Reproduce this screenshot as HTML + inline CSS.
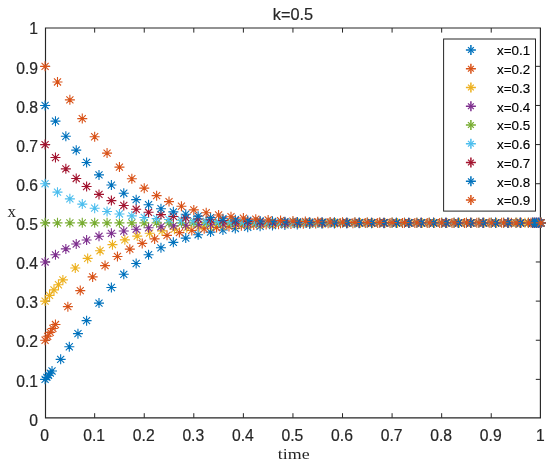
<!DOCTYPE html>
<html><head><meta charset="utf-8"><style>
html,body{margin:0;padding:0;background:#fff;}
body{width:550px;height:468px;overflow:hidden;}
svg{display:block;}
.tl{font-family:"Liberation Sans",Arial,sans-serif;font-size:15.7px;fill:#262626;stroke:#262626;stroke-width:0.2px;}
.lg{font-family:"Liberation Sans",Arial,sans-serif;font-size:13.4px;fill:#000;stroke:#000;stroke-width:0.15px;}
.lab{font-family:"Liberation Serif","Times New Roman",serif;font-size:17px;fill:#262626;}
</style></head><body>
<svg width="550" height="468" viewBox="0 0 550 468">
<rect width="550" height="468" fill="#fff"/>
<path d="M45.5 28.0H540.4V417.8H45.5Z" fill="none" stroke="#262626" stroke-width="1.15"/>
<path d="M94.67 417.80v-4.6M94.67 28.00v4.6M45.50 379.37h4.6M540.40 379.37h-4.6M144.24 417.80v-4.6M144.24 28.00v4.6M45.50 340.24h4.6M540.40 340.24h-4.6M193.81 417.80v-4.6M193.81 28.00v4.6M45.50 301.11h4.6M540.40 301.11h-4.6M243.38 417.80v-4.6M243.38 28.00v4.6M45.50 261.98h4.6M540.40 261.98h-4.6M292.95 417.80v-4.6M292.95 28.00v4.6M45.50 222.85h4.6M540.40 222.85h-4.6M342.52 417.80v-4.6M342.52 28.00v4.6M45.50 183.72h4.6M540.40 183.72h-4.6M392.09 417.80v-4.6M392.09 28.00v4.6M45.50 144.59h4.6M540.40 144.59h-4.6M441.66 417.80v-4.6M441.66 28.00v4.6M45.50 105.46h4.6M540.40 105.46h-4.6M491.23 417.80v-4.6M491.23 28.00v4.6M45.50 66.33h4.6M540.40 66.33h-4.6" stroke="#262626" stroke-width="1" fill="none"/>
<g fill="none" stroke-width="1.1" stroke-linecap="butt">
<path stroke="#0072BD" d="M40.10 379.37h10.00M45.10 374.37v10.00M41.56 375.83l7.07 7.07M41.56 382.91l7.07 -7.07M41.83 377.37h10.00M46.83 372.37v10.00M43.29 373.84l7.07 7.07M43.29 380.91l7.07 -7.07M43.56 375.31h10.00M48.56 370.31v10.00M45.02 371.78l7.07 7.07M45.02 378.85l7.07 -7.07M45.29 373.20h10.00M50.29 368.20v10.00M46.75 369.66l7.07 7.07M46.75 376.73l7.07 -7.07M47.02 371.02h10.00M52.02 366.02v10.00M48.48 367.48l7.07 7.07M48.48 374.55l7.07 -7.07M55.66 359.36h10.00M60.66 354.36v10.00M57.13 355.82l7.07 7.07M57.13 362.89l7.07 -7.07M64.31 346.74h10.00M69.31 341.74v10.00M65.78 343.20l7.07 7.07M65.78 350.27l7.07 -7.07M72.96 333.66h10.00M77.96 328.66v10.00M74.42 330.12l7.07 7.07M74.42 337.19l7.07 -7.07M81.60 320.65h10.00M86.60 315.65v10.00M83.07 317.11l7.07 7.07M83.07 324.18l7.07 -7.07M94.00 303.08h10.00M99.00 298.08v10.00M95.46 299.54l7.07 7.07M95.46 306.61l7.07 -7.07M106.39 287.50h10.00M111.39 282.50v10.00M107.85 283.96l7.07 7.07M107.85 291.03l7.07 -7.07M118.78 274.30h10.00M123.78 269.30v10.00M120.25 270.76l7.07 7.07M120.25 277.84l7.07 -7.07M131.17 263.48h10.00M136.17 258.48v10.00M132.64 259.95l7.07 7.07M132.64 267.02l7.07 -7.07M143.57 254.75h10.00M148.57 249.75v10.00M145.03 251.22l7.07 7.07M145.03 258.29l7.07 -7.07M155.96 247.81h10.00M160.96 242.81v10.00M157.42 244.27l7.07 7.07M157.42 251.34l7.07 -7.07M168.35 242.36h10.00M173.35 237.36v10.00M169.82 238.82l7.07 7.07M169.82 245.89l7.07 -7.07M180.74 238.09h10.00M185.74 233.09v10.00M182.21 234.55l7.07 7.07M182.21 241.62l7.07 -7.07M193.14 234.72h10.00M198.14 229.72v10.00M194.60 231.19l7.07 7.07M194.60 238.26l7.07 -7.07M205.53 232.10h10.00M210.53 227.10v10.00M206.99 228.56l7.07 7.07M206.99 235.63l7.07 -7.07M217.92 230.06h10.00M222.92 225.06v10.00M219.39 226.53l7.07 7.07M219.39 233.60l7.07 -7.07M230.31 228.48h10.00M235.31 223.48v10.00M231.78 224.94l7.07 7.07M231.78 232.01l7.07 -7.07M242.71 227.23h10.00M247.71 222.23v10.00M244.17 223.69l7.07 7.07M244.17 230.76l7.07 -7.07M255.10 226.26h10.00M260.10 221.26v10.00M256.56 222.72l7.07 7.07M256.56 229.79l7.07 -7.07M267.49 225.51h10.00M272.49 220.51v10.00M268.96 221.97l7.07 7.07M268.96 229.04l7.07 -7.07M279.88 224.92h10.00M284.88 219.92v10.00M281.35 221.39l7.07 7.07M281.35 228.46l7.07 -7.07M292.28 224.46h10.00M297.28 219.46v10.00M293.74 220.93l7.07 7.07M293.74 228.00l7.07 -7.07M304.67 224.11h10.00M309.67 219.11v10.00M306.13 220.57l7.07 7.07M306.13 227.64l7.07 -7.07M317.06 223.83h10.00M322.06 218.83v10.00M318.53 220.29l7.07 7.07M318.53 227.36l7.07 -7.07M329.45 223.61h10.00M334.45 218.61v10.00M330.92 220.08l7.07 7.07M330.92 227.15l7.07 -7.07M341.85 223.44h10.00M346.85 218.44v10.00M343.31 219.91l7.07 7.07M343.31 226.98l7.07 -7.07M354.24 223.31h10.00M359.24 218.31v10.00M355.70 219.78l7.07 7.07M355.70 226.85l7.07 -7.07M366.63 223.21h10.00M371.63 218.21v10.00M368.10 219.68l7.07 7.07M368.10 226.75l7.07 -7.07M379.02 223.13h10.00M384.02 218.13v10.00M380.49 219.60l7.07 7.07M380.49 226.67l7.07 -7.07M391.42 223.07h10.00M396.42 218.07v10.00M392.88 219.53l7.07 7.07M392.88 226.60l7.07 -7.07M403.81 223.02h10.00M408.81 218.02v10.00M405.27 219.48l7.07 7.07M405.27 226.56l7.07 -7.07M416.20 222.98h10.00M421.20 217.98v10.00M417.67 219.45l7.07 7.07M417.67 226.52l7.07 -7.07M428.59 222.95h10.00M433.59 217.95v10.00M430.06 219.42l7.07 7.07M430.06 226.49l7.07 -7.07M440.99 222.93h10.00M445.99 217.93v10.00M442.45 219.40l7.07 7.07M442.45 226.47l7.07 -7.07M453.38 222.91h10.00M458.38 217.91v10.00M454.84 219.38l7.07 7.07M454.84 226.45l7.07 -7.07M465.77 222.90h10.00M470.77 217.90v10.00M467.24 219.36l7.07 7.07M467.24 226.43l7.07 -7.07M478.16 222.89h10.00M483.16 217.89v10.00M479.63 219.35l7.07 7.07M479.63 226.42l7.07 -7.07M490.56 222.88h10.00M495.56 217.88v10.00M492.02 219.34l7.07 7.07M492.02 226.42l7.07 -7.07M502.95 222.87h10.00M507.95 217.87v10.00M504.41 219.34l7.07 7.07M504.41 226.41l7.07 -7.07M515.34 222.87h10.00M520.34 217.87v10.00M516.81 219.33l7.07 7.07M516.81 226.40l7.07 -7.07M527.73 222.86h10.00M532.73 217.86v10.00M529.20 219.33l7.07 7.07M529.20 226.40l7.07 -7.07M529.75 222.86h10.00M534.75 217.86v10.00M531.22 219.33l7.07 7.07M531.22 226.40l7.07 -7.07M531.77 222.86h10.00M536.77 217.86v10.00M533.23 219.33l7.07 7.07M533.23 226.40l7.07 -7.07M533.78 222.86h10.00M538.78 217.86v10.00M535.25 219.33l7.07 7.07M535.25 226.40l7.07 -7.07M535.80 222.86h10.00M540.80 217.86v10.00M537.26 219.33l7.07 7.07M537.26 226.40l7.07 -7.07"/>
<path stroke="#D95319" d="M40.10 340.24h10.00M45.10 335.24v10.00M41.56 336.70l7.07 7.07M41.56 343.78l7.07 -7.07M42.69 336.30h10.00M47.69 331.30v10.00M44.16 332.77l7.07 7.07M44.16 339.84l7.07 -7.07M45.29 332.36h10.00M50.29 327.36v10.00M46.75 328.83l7.07 7.07M46.75 335.90l7.07 -7.07M47.88 328.44h10.00M52.88 323.44v10.00M49.35 324.90l7.07 7.07M49.35 331.97l7.07 -7.07M50.48 324.54h10.00M55.48 319.54v10.00M51.94 321.00l7.07 7.07M51.94 328.07l7.07 -7.07M62.87 306.64h10.00M67.87 301.64v10.00M64.33 303.10l7.07 7.07M64.33 310.17l7.07 -7.07M75.26 290.59h10.00M80.26 285.59v10.00M76.73 287.05l7.07 7.07M76.73 294.12l7.07 -7.07M87.65 276.88h10.00M92.65 271.88v10.00M89.12 273.34l7.07 7.07M89.12 280.41l7.07 -7.07M100.05 265.58h10.00M105.05 260.58v10.00M101.51 262.04l7.07 7.07M101.51 269.11l7.07 -7.07M112.44 256.43h10.00M117.44 251.43v10.00M113.90 252.89l7.07 7.07M113.90 259.96l7.07 -7.07M124.83 249.14h10.00M129.83 244.14v10.00M126.30 245.60l7.07 7.07M126.30 252.67l7.07 -7.07M137.22 243.40h10.00M142.22 238.40v10.00M138.69 239.87l7.07 7.07M138.69 246.94l7.07 -7.07M149.62 238.91h10.00M154.62 233.91v10.00M151.08 235.37l7.07 7.07M151.08 242.44l7.07 -7.07M162.01 235.36h10.00M167.01 230.36v10.00M163.47 231.82l7.07 7.07M163.47 238.90l7.07 -7.07M174.40 232.59h10.00M179.40 227.59v10.00M175.87 229.06l7.07 7.07M175.87 236.13l7.07 -7.07M186.79 230.45h10.00M191.79 225.45v10.00M188.26 226.91l7.07 7.07M188.26 233.98l7.07 -7.07M199.19 228.78h10.00M204.19 223.78v10.00M200.65 225.24l7.07 7.07M200.65 232.32l7.07 -7.07M211.58 227.46h10.00M216.58 222.46v10.00M213.04 223.93l7.07 7.07M213.04 231.00l7.07 -7.07M223.97 226.44h10.00M228.97 221.44v10.00M225.44 222.91l7.07 7.07M225.44 229.98l7.07 -7.07M236.36 225.65h10.00M241.36 220.65v10.00M237.83 222.11l7.07 7.07M237.83 229.19l7.07 -7.07M248.76 225.03h10.00M253.76 220.03v10.00M250.22 221.50l7.07 7.07M250.22 228.57l7.07 -7.07M261.15 224.55h10.00M266.15 219.55v10.00M262.61 221.01l7.07 7.07M262.61 228.09l7.07 -7.07M273.54 224.17h10.00M278.54 219.17v10.00M275.01 220.64l7.07 7.07M275.01 227.71l7.07 -7.07M285.93 223.88h10.00M290.93 218.88v10.00M287.40 220.35l7.07 7.07M287.40 227.42l7.07 -7.07M298.33 223.65h10.00M303.33 218.65v10.00M299.79 220.12l7.07 7.07M299.79 227.19l7.07 -7.07M310.72 223.48h10.00M315.72 218.48v10.00M312.18 219.94l7.07 7.07M312.18 227.01l7.07 -7.07M323.11 223.34h10.00M328.11 218.34v10.00M324.58 219.80l7.07 7.07M324.58 226.87l7.07 -7.07M335.50 223.23h10.00M340.50 218.23v10.00M336.97 219.69l7.07 7.07M336.97 226.77l7.07 -7.07M347.90 223.15h10.00M352.90 218.15v10.00M349.36 219.61l7.07 7.07M349.36 226.68l7.07 -7.07M360.29 223.08h10.00M365.29 218.08v10.00M361.75 219.55l7.07 7.07M361.75 226.62l7.07 -7.07M372.68 223.03h10.00M377.68 218.03v10.00M374.15 219.49l7.07 7.07M374.15 226.56l7.07 -7.07M385.07 222.99h10.00M390.07 217.99v10.00M386.54 219.45l7.07 7.07M386.54 226.53l7.07 -7.07M397.47 222.96h10.00M402.47 217.96v10.00M398.93 219.42l7.07 7.07M398.93 226.49l7.07 -7.07M409.86 222.93h10.00M414.86 217.93v10.00M411.32 219.40l7.07 7.07M411.32 226.47l7.07 -7.07M422.25 222.92h10.00M427.25 217.92v10.00M423.72 219.38l7.07 7.07M423.72 226.45l7.07 -7.07M434.64 222.90h10.00M439.64 217.90v10.00M436.11 219.37l7.07 7.07M436.11 226.44l7.07 -7.07M447.04 222.89h10.00M452.04 217.89v10.00M448.50 219.35l7.07 7.07M448.50 226.43l7.07 -7.07M459.43 222.88h10.00M464.43 217.88v10.00M460.89 219.35l7.07 7.07M460.89 226.42l7.07 -7.07M471.82 222.87h10.00M476.82 217.87v10.00M473.29 219.34l7.07 7.07M473.29 226.41l7.07 -7.07M484.21 222.87h10.00M489.21 217.87v10.00M485.68 219.33l7.07 7.07M485.68 226.40l7.07 -7.07M496.61 222.86h10.00M501.61 217.86v10.00M498.07 219.33l7.07 7.07M498.07 226.40l7.07 -7.07M506.40 222.86h10.00M511.40 217.86v10.00M507.87 219.33l7.07 7.07M507.87 226.40l7.07 -7.07M516.20 222.86h10.00M521.20 217.86v10.00M517.67 219.32l7.07 7.07M517.67 226.40l7.07 -7.07M526.00 222.86h10.00M531.00 217.86v10.00M527.47 219.32l7.07 7.07M527.47 226.39l7.07 -7.07M535.80 222.86h10.00M540.80 217.86v10.00M537.26 219.32l7.07 7.07M537.26 226.39l7.07 -7.07"/>
<path stroke="#EDB120" d="M40.10 301.11h10.00M45.10 296.11v10.00M41.56 297.57l7.07 7.07M41.56 304.65l7.07 -7.07M44.55 295.35h10.00M49.55 290.35v10.00M46.01 291.82l7.07 7.07M46.01 298.89l7.07 -7.07M48.99 289.89h10.00M53.99 284.89v10.00M50.46 286.36l7.07 7.07M50.46 293.43l7.07 -7.07M53.44 284.74h10.00M58.44 279.74v10.00M54.91 281.20l7.07 7.07M54.91 288.28l7.07 -7.07M57.89 279.90h10.00M62.89 274.90v10.00M59.35 276.37l7.07 7.07M59.35 283.44l7.07 -7.07M70.28 268.04h10.00M75.28 263.04v10.00M71.74 264.50l7.07 7.07M71.74 271.57l7.07 -7.07M82.67 258.40h10.00M87.67 253.40v10.00M84.14 254.86l7.07 7.07M84.14 261.93l7.07 -7.07M95.07 250.72h10.00M100.07 245.72v10.00M96.53 247.18l7.07 7.07M96.53 254.25l7.07 -7.07M107.46 244.65h10.00M112.46 239.65v10.00M108.92 241.12l7.07 7.07M108.92 248.19l7.07 -7.07M119.85 239.86h10.00M124.85 234.86v10.00M121.31 236.32l7.07 7.07M121.31 243.39l7.07 -7.07M132.24 236.11h10.00M137.24 231.11v10.00M133.71 232.57l7.07 7.07M133.71 239.64l7.07 -7.07M144.64 233.19h10.00M149.64 228.19v10.00M146.10 229.66l7.07 7.07M146.10 236.73l7.07 -7.07M157.03 230.92h10.00M162.03 225.92v10.00M158.49 227.39l7.07 7.07M158.49 234.46l7.07 -7.07M169.42 229.13h10.00M174.42 224.13v10.00M170.88 225.60l7.07 7.07M170.88 232.67l7.07 -7.07M181.81 227.74h10.00M186.81 222.74v10.00M183.28 224.20l7.07 7.07M183.28 231.28l7.07 -7.07M194.21 226.66h10.00M199.21 221.66v10.00M195.67 223.13l7.07 7.07M195.67 230.20l7.07 -7.07M206.60 225.82h10.00M211.60 220.82v10.00M208.06 222.29l7.07 7.07M208.06 229.36l7.07 -7.07M218.99 225.16h10.00M223.99 220.16v10.00M220.45 221.63l7.07 7.07M220.45 228.70l7.07 -7.07M231.38 224.65h10.00M236.38 219.65v10.00M232.85 221.12l7.07 7.07M232.85 228.19l7.07 -7.07M243.78 224.25h10.00M248.78 219.25v10.00M245.24 220.72l7.07 7.07M245.24 227.79l7.07 -7.07M256.17 223.95h10.00M261.17 218.95v10.00M257.63 220.41l7.07 7.07M257.63 227.48l7.07 -7.07M268.56 223.70h10.00M273.56 218.70v10.00M270.02 220.17l7.07 7.07M270.02 227.24l7.07 -7.07M280.95 223.51h10.00M285.95 218.51v10.00M282.42 219.98l7.07 7.07M282.42 227.05l7.07 -7.07M293.35 223.37h10.00M298.35 218.37v10.00M294.81 219.83l7.07 7.07M294.81 226.90l7.07 -7.07M305.74 223.25h10.00M310.74 218.25v10.00M307.20 219.72l7.07 7.07M307.20 226.79l7.07 -7.07M318.13 223.16h10.00M323.13 218.16v10.00M319.59 219.63l7.07 7.07M319.59 226.70l7.07 -7.07M330.52 223.09h10.00M335.52 218.09v10.00M331.99 219.56l7.07 7.07M331.99 226.63l7.07 -7.07M342.92 223.04h10.00M347.92 218.04v10.00M344.38 219.51l7.07 7.07M344.38 226.58l7.07 -7.07M355.31 223.00h10.00M360.31 218.00v10.00M356.77 219.46l7.07 7.07M356.77 226.53l7.07 -7.07M367.70 222.97h10.00M372.70 217.97v10.00M369.16 219.43l7.07 7.07M369.16 226.50l7.07 -7.07M380.09 222.94h10.00M385.09 217.94v10.00M381.56 219.40l7.07 7.07M381.56 226.48l7.07 -7.07M392.49 222.92h10.00M397.49 217.92v10.00M393.95 219.38l7.07 7.07M393.95 226.46l7.07 -7.07M404.88 222.90h10.00M409.88 217.90v10.00M406.34 219.37l7.07 7.07M406.34 226.44l7.07 -7.07M417.27 222.89h10.00M422.27 217.89v10.00M418.73 219.36l7.07 7.07M418.73 226.43l7.07 -7.07M429.66 222.88h10.00M434.66 217.88v10.00M431.13 219.35l7.07 7.07M431.13 226.42l7.07 -7.07M442.06 222.88h10.00M447.06 217.88v10.00M443.52 219.34l7.07 7.07M443.52 226.41l7.07 -7.07M454.45 222.87h10.00M459.45 217.87v10.00M455.91 219.33l7.07 7.07M455.91 226.41l7.07 -7.07M466.84 222.87h10.00M471.84 217.87v10.00M468.30 219.33l7.07 7.07M468.30 226.40l7.07 -7.07M479.23 222.86h10.00M484.23 217.86v10.00M480.70 219.33l7.07 7.07M480.70 226.40l7.07 -7.07M491.63 222.86h10.00M496.63 217.86v10.00M493.09 219.32l7.07 7.07M493.09 226.40l7.07 -7.07M504.02 222.86h10.00M509.02 217.86v10.00M505.48 219.32l7.07 7.07M505.48 226.39l7.07 -7.07M511.96 222.86h10.00M516.96 217.86v10.00M513.43 219.32l7.07 7.07M513.43 226.39l7.07 -7.07M519.91 222.86h10.00M524.91 217.86v10.00M521.37 219.32l7.07 7.07M521.37 226.39l7.07 -7.07M527.85 222.85h10.00M532.85 217.85v10.00M529.32 219.32l7.07 7.07M529.32 226.39l7.07 -7.07M535.80 222.85h10.00M540.80 217.85v10.00M537.26 219.32l7.07 7.07M537.26 226.39l7.07 -7.07"/>
<path stroke="#7E2F8E" d="M40.10 261.98h10.00M45.10 256.98v10.00M41.56 258.44l7.07 7.07M41.56 265.52l7.07 -7.07M50.48 254.80h10.00M55.48 249.80v10.00M51.94 251.27l7.07 7.07M51.94 258.34l7.07 -7.07M60.85 248.88h10.00M65.85 243.88v10.00M62.32 245.35l7.07 7.07M62.32 252.42l7.07 -7.07M71.23 244.03h10.00M76.23 239.03v10.00M72.69 240.50l7.07 7.07M72.69 247.57l7.07 -7.07M81.60 240.07h10.00M86.60 235.07v10.00M83.07 236.54l7.07 7.07M83.07 243.61l7.07 -7.07M94.00 236.27h10.00M99.00 231.27v10.00M95.46 232.74l7.07 7.07M95.46 239.81l7.07 -7.07M106.39 233.30h10.00M111.39 228.30v10.00M107.85 229.77l7.07 7.07M107.85 236.84l7.07 -7.07M118.78 231.00h10.00M123.78 226.00v10.00M120.25 227.47l7.07 7.07M120.25 234.54l7.07 -7.07M131.17 229.21h10.00M136.17 224.21v10.00M132.64 225.68l7.07 7.07M132.64 232.75l7.07 -7.07M143.57 227.80h10.00M148.57 222.80v10.00M145.03 224.27l7.07 7.07M145.03 231.34l7.07 -7.07M155.96 226.70h10.00M160.96 221.70v10.00M157.42 223.17l7.07 7.07M157.42 230.24l7.07 -7.07M168.35 225.86h10.00M173.35 220.86v10.00M169.82 222.32l7.07 7.07M169.82 229.39l7.07 -7.07M180.74 225.19h10.00M185.74 220.19v10.00M182.21 221.66l7.07 7.07M182.21 228.73l7.07 -7.07M193.14 224.67h10.00M198.14 219.67v10.00M194.60 221.14l7.07 7.07M194.60 228.21l7.07 -7.07M205.53 224.27h10.00M210.53 219.27v10.00M206.99 220.73l7.07 7.07M206.99 227.81l7.07 -7.07M217.92 223.96h10.00M222.92 218.96v10.00M219.39 220.42l7.07 7.07M219.39 227.49l7.07 -7.07M230.31 223.71h10.00M235.31 218.71v10.00M231.78 220.18l7.07 7.07M231.78 227.25l7.07 -7.07M242.71 223.52h10.00M247.71 218.52v10.00M244.17 219.99l7.07 7.07M244.17 227.06l7.07 -7.07M255.10 223.37h10.00M260.10 218.37v10.00M256.56 219.84l7.07 7.07M256.56 226.91l7.07 -7.07M267.49 223.26h10.00M272.49 218.26v10.00M268.96 219.72l7.07 7.07M268.96 226.79l7.07 -7.07M279.88 223.17h10.00M284.88 218.17v10.00M281.35 219.63l7.07 7.07M281.35 226.70l7.07 -7.07M292.28 223.10h10.00M297.28 218.10v10.00M293.74 219.56l7.07 7.07M293.74 226.63l7.07 -7.07M304.67 223.04h10.00M309.67 218.04v10.00M306.13 219.51l7.07 7.07M306.13 226.58l7.07 -7.07M317.06 223.00h10.00M322.06 218.00v10.00M318.53 219.46l7.07 7.07M318.53 226.54l7.07 -7.07M329.45 222.97h10.00M334.45 217.97v10.00M330.92 219.43l7.07 7.07M330.92 226.50l7.07 -7.07M341.85 222.94h10.00M346.85 217.94v10.00M343.31 219.41l7.07 7.07M343.31 226.48l7.07 -7.07M354.24 222.92h10.00M359.24 217.92v10.00M355.70 219.39l7.07 7.07M355.70 226.46l7.07 -7.07M366.63 222.91h10.00M371.63 217.91v10.00M368.10 219.37l7.07 7.07M368.10 226.44l7.07 -7.07M379.02 222.89h10.00M384.02 217.89v10.00M380.49 219.36l7.07 7.07M380.49 226.43l7.07 -7.07M391.42 222.88h10.00M396.42 217.88v10.00M392.88 219.35l7.07 7.07M392.88 226.42l7.07 -7.07M403.81 222.88h10.00M408.81 217.88v10.00M405.27 219.34l7.07 7.07M405.27 226.41l7.07 -7.07M416.20 222.87h10.00M421.20 217.87v10.00M417.67 219.33l7.07 7.07M417.67 226.41l7.07 -7.07M428.59 222.87h10.00M433.59 217.87v10.00M430.06 219.33l7.07 7.07M430.06 226.40l7.07 -7.07M440.99 222.86h10.00M445.99 217.86v10.00M442.45 219.33l7.07 7.07M442.45 226.40l7.07 -7.07M453.38 222.86h10.00M458.38 217.86v10.00M454.84 219.32l7.07 7.07M454.84 226.40l7.07 -7.07M465.77 222.86h10.00M470.77 217.86v10.00M467.24 219.32l7.07 7.07M467.24 226.39l7.07 -7.07M478.16 222.86h10.00M483.16 217.86v10.00M479.63 219.32l7.07 7.07M479.63 226.39l7.07 -7.07M490.56 222.85h10.00M495.56 217.85v10.00M492.02 219.32l7.07 7.07M492.02 226.39l7.07 -7.07M502.95 222.85h10.00M507.95 217.85v10.00M504.41 219.32l7.07 7.07M504.41 226.39l7.07 -7.07M515.34 222.85h10.00M520.34 217.85v10.00M516.81 219.32l7.07 7.07M516.81 226.39l7.07 -7.07M527.73 222.85h10.00M532.73 217.85v10.00M529.20 219.32l7.07 7.07M529.20 226.39l7.07 -7.07M529.75 222.85h10.00M534.75 217.85v10.00M531.22 219.32l7.07 7.07M531.22 226.39l7.07 -7.07M531.77 222.85h10.00M536.77 217.85v10.00M533.23 219.32l7.07 7.07M533.23 226.39l7.07 -7.07M533.78 222.85h10.00M538.78 217.85v10.00M535.25 219.32l7.07 7.07M535.25 226.39l7.07 -7.07M535.80 222.85h10.00M540.80 217.85v10.00M537.26 219.32l7.07 7.07M537.26 226.39l7.07 -7.07"/>
<path stroke="#77AC30" d="M40.10 222.85h10.00M45.10 217.85v10.00M41.56 219.31l7.07 7.07M41.56 226.39l7.07 -7.07M52.49 222.85h10.00M57.49 217.85v10.00M53.96 219.31l7.07 7.07M53.96 226.39l7.07 -7.07M64.88 222.85h10.00M69.88 217.85v10.00M66.35 219.31l7.07 7.07M66.35 226.39l7.07 -7.07M77.28 222.85h10.00M82.28 217.85v10.00M78.74 219.31l7.07 7.07M78.74 226.39l7.07 -7.07M89.67 222.85h10.00M94.67 217.85v10.00M91.13 219.31l7.07 7.07M91.13 226.39l7.07 -7.07M102.06 222.85h10.00M107.06 217.85v10.00M103.53 219.31l7.07 7.07M103.53 226.39l7.07 -7.07M114.46 222.85h10.00M119.46 217.85v10.00M115.92 219.31l7.07 7.07M115.92 226.39l7.07 -7.07M126.85 222.85h10.00M131.85 217.85v10.00M128.31 219.31l7.07 7.07M128.31 226.39l7.07 -7.07M139.24 222.85h10.00M144.24 217.85v10.00M140.70 219.31l7.07 7.07M140.70 226.39l7.07 -7.07M151.63 222.85h10.00M156.63 217.85v10.00M153.10 219.31l7.07 7.07M153.10 226.39l7.07 -7.07M164.02 222.85h10.00M169.02 217.85v10.00M165.49 219.31l7.07 7.07M165.49 226.39l7.07 -7.07M176.42 222.85h10.00M181.42 217.85v10.00M177.88 219.31l7.07 7.07M177.88 226.39l7.07 -7.07M188.81 222.85h10.00M193.81 217.85v10.00M190.27 219.31l7.07 7.07M190.27 226.39l7.07 -7.07M201.20 222.85h10.00M206.20 217.85v10.00M202.67 219.31l7.07 7.07M202.67 226.39l7.07 -7.07M213.59 222.85h10.00M218.59 217.85v10.00M215.06 219.31l7.07 7.07M215.06 226.39l7.07 -7.07M225.99 222.85h10.00M230.99 217.85v10.00M227.45 219.31l7.07 7.07M227.45 226.39l7.07 -7.07M238.38 222.85h10.00M243.38 217.85v10.00M239.84 219.31l7.07 7.07M239.84 226.39l7.07 -7.07M250.77 222.85h10.00M255.77 217.85v10.00M252.24 219.31l7.07 7.07M252.24 226.39l7.07 -7.07M263.16 222.85h10.00M268.16 217.85v10.00M264.63 219.31l7.07 7.07M264.63 226.39l7.07 -7.07M275.56 222.85h10.00M280.56 217.85v10.00M277.02 219.31l7.07 7.07M277.02 226.39l7.07 -7.07M287.95 222.85h10.00M292.95 217.85v10.00M289.41 219.31l7.07 7.07M289.41 226.39l7.07 -7.07M300.34 222.85h10.00M305.34 217.85v10.00M301.81 219.31l7.07 7.07M301.81 226.39l7.07 -7.07M312.74 222.85h10.00M317.74 217.85v10.00M314.20 219.31l7.07 7.07M314.20 226.39l7.07 -7.07M325.13 222.85h10.00M330.13 217.85v10.00M326.59 219.31l7.07 7.07M326.59 226.39l7.07 -7.07M337.52 222.85h10.00M342.52 217.85v10.00M338.98 219.31l7.07 7.07M338.98 226.39l7.07 -7.07M349.91 222.85h10.00M354.91 217.85v10.00M351.38 219.31l7.07 7.07M351.38 226.39l7.07 -7.07M362.30 222.85h10.00M367.30 217.85v10.00M363.77 219.31l7.07 7.07M363.77 226.39l7.07 -7.07M374.70 222.85h10.00M379.70 217.85v10.00M376.16 219.31l7.07 7.07M376.16 226.39l7.07 -7.07M387.09 222.85h10.00M392.09 217.85v10.00M388.55 219.31l7.07 7.07M388.55 226.39l7.07 -7.07M399.48 222.85h10.00M404.48 217.85v10.00M400.95 219.31l7.07 7.07M400.95 226.39l7.07 -7.07M411.88 222.85h10.00M416.88 217.85v10.00M413.34 219.31l7.07 7.07M413.34 226.39l7.07 -7.07M424.27 222.85h10.00M429.27 217.85v10.00M425.73 219.31l7.07 7.07M425.73 226.39l7.07 -7.07M436.66 222.85h10.00M441.66 217.85v10.00M438.12 219.31l7.07 7.07M438.12 226.39l7.07 -7.07M449.05 222.85h10.00M454.05 217.85v10.00M450.52 219.31l7.07 7.07M450.52 226.39l7.07 -7.07M461.44 222.85h10.00M466.44 217.85v10.00M462.91 219.31l7.07 7.07M462.91 226.39l7.07 -7.07M473.84 222.85h10.00M478.84 217.85v10.00M475.30 219.31l7.07 7.07M475.30 226.39l7.07 -7.07M486.23 222.85h10.00M491.23 217.85v10.00M487.69 219.31l7.07 7.07M487.69 226.39l7.07 -7.07M498.62 222.85h10.00M503.62 217.85v10.00M500.09 219.31l7.07 7.07M500.09 226.39l7.07 -7.07M511.01 222.85h10.00M516.01 217.85v10.00M512.48 219.31l7.07 7.07M512.48 226.39l7.07 -7.07M523.41 222.85h10.00M528.41 217.85v10.00M524.87 219.31l7.07 7.07M524.87 226.39l7.07 -7.07M535.80 222.85h10.00M540.80 217.85v10.00M537.26 219.31l7.07 7.07M537.26 226.39l7.07 -7.07"/>
<path stroke="#4DBEEE" d="M40.10 183.72h10.00M45.10 178.72v10.00M41.56 180.18l7.07 7.07M41.56 187.26l7.07 -7.07M52.49 192.15h10.00M57.49 187.15v10.00M53.96 188.61l7.07 7.07M53.96 195.68l7.07 -7.07M64.88 198.84h10.00M69.88 193.84v10.00M66.35 195.30l7.07 7.07M66.35 202.37l7.07 -7.07M77.28 204.09h10.00M82.28 199.09v10.00M78.74 200.55l7.07 7.07M78.74 207.62l7.07 -7.07M89.67 208.19h10.00M94.67 203.19v10.00M91.13 204.66l7.07 7.07M91.13 211.73l7.07 -7.07M102.06 211.43h10.00M107.06 206.43v10.00M103.53 207.90l7.07 7.07M103.53 214.97l7.07 -7.07M114.46 213.96h10.00M119.46 208.96v10.00M115.92 210.42l7.07 7.07M115.92 217.50l7.07 -7.07M126.85 215.92h10.00M131.85 210.92v10.00M128.31 212.38l7.07 7.07M128.31 219.45l7.07 -7.07M139.24 217.44h10.00M144.24 212.44v10.00M140.70 213.90l7.07 7.07M140.70 220.98l7.07 -7.07M151.63 218.64h10.00M156.63 213.64v10.00M153.10 215.10l7.07 7.07M153.10 222.18l7.07 -7.07M164.02 219.57h10.00M169.02 214.57v10.00M165.49 216.04l7.07 7.07M165.49 223.11l7.07 -7.07M176.42 220.30h10.00M181.42 215.30v10.00M177.88 216.76l7.07 7.07M177.88 223.83l7.07 -7.07M188.81 220.86h10.00M193.81 215.86v10.00M190.27 217.32l7.07 7.07M190.27 224.39l7.07 -7.07M201.20 221.30h10.00M206.20 216.30v10.00M202.67 217.76l7.07 7.07M202.67 224.83l7.07 -7.07M213.59 221.64h10.00M218.59 216.64v10.00M215.06 218.11l7.07 7.07M215.06 225.18l7.07 -7.07M225.99 221.91h10.00M230.99 216.91v10.00M227.45 218.37l7.07 7.07M227.45 225.44l7.07 -7.07M238.38 222.12h10.00M243.38 217.12v10.00M239.84 218.58l7.07 7.07M239.84 225.65l7.07 -7.07M250.77 222.28h10.00M255.77 217.28v10.00M252.24 218.74l7.07 7.07M252.24 225.81l7.07 -7.07M263.16 222.41h10.00M268.16 217.41v10.00M264.63 218.87l7.07 7.07M264.63 225.94l7.07 -7.07M275.56 222.50h10.00M280.56 217.50v10.00M277.02 218.97l7.07 7.07M277.02 226.04l7.07 -7.07M287.95 222.58h10.00M292.95 217.58v10.00M289.41 219.04l7.07 7.07M289.41 226.12l7.07 -7.07M300.34 222.64h10.00M305.34 217.64v10.00M301.81 219.10l7.07 7.07M301.81 226.18l7.07 -7.07M312.74 222.69h10.00M317.74 217.69v10.00M314.20 219.15l7.07 7.07M314.20 226.22l7.07 -7.07M325.13 222.72h10.00M330.13 217.72v10.00M326.59 219.19l7.07 7.07M326.59 226.26l7.07 -7.07M337.52 222.75h10.00M342.52 217.75v10.00M338.98 219.21l7.07 7.07M338.98 226.29l7.07 -7.07M349.91 222.77h10.00M354.91 217.77v10.00M351.38 219.24l7.07 7.07M351.38 226.31l7.07 -7.07M362.30 222.79h10.00M367.30 217.79v10.00M363.77 219.25l7.07 7.07M363.77 226.33l7.07 -7.07M374.70 222.80h10.00M379.70 217.80v10.00M376.16 219.27l7.07 7.07M376.16 226.34l7.07 -7.07M387.09 222.81h10.00M392.09 217.81v10.00M388.55 219.28l7.07 7.07M388.55 226.35l7.07 -7.07M399.48 222.82h10.00M404.48 217.82v10.00M400.95 219.29l7.07 7.07M400.95 226.36l7.07 -7.07M411.88 222.83h10.00M416.88 217.83v10.00M413.34 219.29l7.07 7.07M413.34 226.36l7.07 -7.07M424.27 222.83h10.00M429.27 217.83v10.00M425.73 219.30l7.07 7.07M425.73 226.37l7.07 -7.07M436.66 222.84h10.00M441.66 217.84v10.00M438.12 219.30l7.07 7.07M438.12 226.37l7.07 -7.07M449.05 222.84h10.00M454.05 217.84v10.00M450.52 219.30l7.07 7.07M450.52 226.37l7.07 -7.07M461.44 222.84h10.00M466.44 217.84v10.00M462.91 219.31l7.07 7.07M462.91 226.38l7.07 -7.07M473.84 222.84h10.00M478.84 217.84v10.00M475.30 219.31l7.07 7.07M475.30 226.38l7.07 -7.07M486.23 222.85h10.00M491.23 217.85v10.00M487.69 219.31l7.07 7.07M487.69 226.38l7.07 -7.07M498.62 222.85h10.00M503.62 217.85v10.00M500.09 219.31l7.07 7.07M500.09 226.38l7.07 -7.07M511.01 222.85h10.00M516.01 217.85v10.00M512.48 219.31l7.07 7.07M512.48 226.38l7.07 -7.07M523.41 222.85h10.00M528.41 217.85v10.00M524.87 219.31l7.07 7.07M524.87 226.38l7.07 -7.07M535.80 222.85h10.00M540.80 217.85v10.00M537.26 219.31l7.07 7.07M537.26 226.38l7.07 -7.07"/>
<path stroke="#A2142F" d="M40.10 144.59h10.00M45.10 139.59v10.00M41.56 141.05l7.07 7.07M41.56 148.13l7.07 -7.07M50.48 157.55h10.00M55.48 152.55v10.00M51.94 154.02l7.07 7.07M51.94 161.09l7.07 -7.07M60.85 168.85h10.00M65.85 163.85v10.00M62.32 165.32l7.07 7.07M62.32 172.39l7.07 -7.07M71.23 178.48h10.00M76.23 173.48v10.00M72.69 174.94l7.07 7.07M72.69 182.01l7.07 -7.07M81.60 186.53h10.00M86.60 181.53v10.00M83.07 182.99l7.07 7.07M83.07 190.07l7.07 -7.07M94.00 194.39h10.00M99.00 189.39v10.00M95.46 190.85l7.07 7.07M95.46 197.92l7.07 -7.07M106.39 200.60h10.00M111.39 195.60v10.00M107.85 197.07l7.07 7.07M107.85 204.14l7.07 -7.07M118.78 205.47h10.00M123.78 200.47v10.00M120.25 201.94l7.07 7.07M120.25 209.01l7.07 -7.07M131.17 209.28h10.00M136.17 204.28v10.00M132.64 205.74l7.07 7.07M132.64 212.82l7.07 -7.07M143.57 212.28h10.00M148.57 207.28v10.00M145.03 208.74l7.07 7.07M145.03 215.82l7.07 -7.07M155.96 214.62h10.00M160.96 209.62v10.00M157.42 211.08l7.07 7.07M157.42 218.16l7.07 -7.07M168.35 216.43h10.00M173.35 211.43v10.00M169.82 212.90l7.07 7.07M169.82 219.97l7.07 -7.07M180.74 217.84h10.00M185.74 212.84v10.00M182.21 214.31l7.07 7.07M182.21 221.38l7.07 -7.07M193.14 218.95h10.00M198.14 213.95v10.00M194.60 215.42l7.07 7.07M194.60 222.49l7.07 -7.07M205.53 219.82h10.00M210.53 214.82v10.00M206.99 216.28l7.07 7.07M206.99 223.35l7.07 -7.07M217.92 220.49h10.00M222.92 215.49v10.00M219.39 216.95l7.07 7.07M219.39 224.02l7.07 -7.07M230.31 221.00h10.00M235.31 216.00v10.00M231.78 217.47l7.07 7.07M231.78 224.54l7.07 -7.07M242.71 221.41h10.00M247.71 216.41v10.00M244.17 217.88l7.07 7.07M244.17 224.95l7.07 -7.07M255.10 221.73h10.00M260.10 216.73v10.00M256.56 218.20l7.07 7.07M256.56 225.27l7.07 -7.07M267.49 221.98h10.00M272.49 216.98v10.00M268.96 218.44l7.07 7.07M268.96 225.51l7.07 -7.07M279.88 222.17h10.00M284.88 217.17v10.00M281.35 218.63l7.07 7.07M281.35 225.71l7.07 -7.07M292.28 222.32h10.00M297.28 217.32v10.00M293.74 218.79l7.07 7.07M293.74 225.86l7.07 -7.07M304.67 222.44h10.00M309.67 217.44v10.00M306.13 218.90l7.07 7.07M306.13 225.97l7.07 -7.07M317.06 222.53h10.00M322.06 217.53v10.00M318.53 218.99l7.07 7.07M318.53 226.06l7.07 -7.07M329.45 222.60h10.00M334.45 217.60v10.00M330.92 219.06l7.07 7.07M330.92 226.14l7.07 -7.07M341.85 222.66h10.00M346.85 217.66v10.00M343.31 219.12l7.07 7.07M343.31 226.19l7.07 -7.07M354.24 222.70h10.00M359.24 217.70v10.00M355.70 219.16l7.07 7.07M355.70 226.23l7.07 -7.07M366.63 222.73h10.00M371.63 217.73v10.00M368.10 219.20l7.07 7.07M368.10 226.27l7.07 -7.07M379.02 222.76h10.00M384.02 217.76v10.00M380.49 219.22l7.07 7.07M380.49 226.29l7.07 -7.07M391.42 222.78h10.00M396.42 217.78v10.00M392.88 219.24l7.07 7.07M392.88 226.31l7.07 -7.07M403.81 222.79h10.00M408.81 217.79v10.00M405.27 219.26l7.07 7.07M405.27 226.33l7.07 -7.07M416.20 222.81h10.00M421.20 217.81v10.00M417.67 219.27l7.07 7.07M417.67 226.34l7.07 -7.07M428.59 222.82h10.00M433.59 217.82v10.00M430.06 219.28l7.07 7.07M430.06 226.35l7.07 -7.07M440.99 222.82h10.00M445.99 217.82v10.00M442.45 219.29l7.07 7.07M442.45 226.36l7.07 -7.07M453.38 222.83h10.00M458.38 217.83v10.00M454.84 219.29l7.07 7.07M454.84 226.36l7.07 -7.07M465.77 222.83h10.00M470.77 217.83v10.00M467.24 219.30l7.07 7.07M467.24 226.37l7.07 -7.07M478.16 222.84h10.00M483.16 217.84v10.00M479.63 219.30l7.07 7.07M479.63 226.37l7.07 -7.07M490.56 222.84h10.00M495.56 217.84v10.00M492.02 219.30l7.07 7.07M492.02 226.38l7.07 -7.07M502.95 222.84h10.00M507.95 217.84v10.00M504.41 219.31l7.07 7.07M504.41 226.38l7.07 -7.07M515.34 222.84h10.00M520.34 217.84v10.00M516.81 219.31l7.07 7.07M516.81 226.38l7.07 -7.07M527.73 222.85h10.00M532.73 217.85v10.00M529.20 219.31l7.07 7.07M529.20 226.38l7.07 -7.07M529.75 222.85h10.00M534.75 217.85v10.00M531.22 219.31l7.07 7.07M531.22 226.38l7.07 -7.07M531.77 222.85h10.00M536.77 217.85v10.00M533.23 219.31l7.07 7.07M533.23 226.38l7.07 -7.07M533.78 222.85h10.00M538.78 217.85v10.00M535.25 219.31l7.07 7.07M535.25 226.38l7.07 -7.07M535.80 222.85h10.00M540.80 217.85v10.00M537.26 219.31l7.07 7.07M537.26 226.38l7.07 -7.07"/>
<path stroke="#0072BD" d="M40.10 105.46h10.00M45.10 100.46v10.00M41.56 101.92l7.07 7.07M41.56 109.00l7.07 -7.07M50.48 121.16h10.00M55.48 116.16v10.00M51.94 117.63l7.07 7.07M51.94 124.70l7.07 -7.07M60.85 136.27h10.00M65.85 131.27v10.00M62.32 132.73l7.07 7.07M62.32 139.80l7.07 -7.07M71.23 150.15h10.00M76.23 145.15v10.00M72.69 146.61l7.07 7.07M72.69 153.68l7.07 -7.07M81.60 162.44h10.00M86.60 157.44v10.00M83.07 158.90l7.07 7.07M83.07 165.97l7.07 -7.07M94.00 174.90h10.00M99.00 169.90v10.00M95.46 171.36l7.07 7.07M95.46 178.43l7.07 -7.07M106.39 185.07h10.00M111.39 180.07v10.00M107.85 181.54l7.07 7.07M107.85 188.61l7.07 -7.07M118.78 193.21h10.00M123.78 188.21v10.00M120.25 189.68l7.07 7.07M120.25 196.75l7.07 -7.07M131.17 199.65h10.00M136.17 194.65v10.00M132.64 196.11l7.07 7.07M132.64 203.19l7.07 -7.07M143.57 204.75h10.00M148.57 199.75v10.00M145.03 201.21l7.07 7.07M145.03 208.28l7.07 -7.07M155.96 208.74h10.00M160.96 203.74v10.00M157.42 205.20l7.07 7.07M157.42 212.27l7.07 -7.07M168.35 211.84h10.00M173.35 206.84v10.00M169.82 208.30l7.07 7.07M169.82 215.37l7.07 -7.07M180.74 214.26h10.00M185.74 209.26v10.00M182.21 210.72l7.07 7.07M182.21 217.79l7.07 -7.07M193.14 216.16h10.00M198.14 211.16v10.00M194.60 212.62l7.07 7.07M194.60 219.70l7.07 -7.07M205.53 217.64h10.00M210.53 212.64v10.00M206.99 214.11l7.07 7.07M206.99 221.18l7.07 -7.07M217.92 218.79h10.00M222.92 213.79v10.00M219.39 215.25l7.07 7.07M219.39 222.33l7.07 -7.07M230.31 219.68h10.00M235.31 214.68v10.00M231.78 216.15l7.07 7.07M231.78 223.22l7.07 -7.07M242.71 220.38h10.00M247.71 215.38v10.00M244.17 216.85l7.07 7.07M244.17 223.92l7.07 -7.07M255.10 220.93h10.00M260.10 215.93v10.00M256.56 217.40l7.07 7.07M256.56 224.47l7.07 -7.07M267.49 221.35h10.00M272.49 216.35v10.00M268.96 217.82l7.07 7.07M268.96 224.89l7.07 -7.07M279.88 221.68h10.00M284.88 216.68v10.00M281.35 218.15l7.07 7.07M281.35 225.22l7.07 -7.07M292.28 221.94h10.00M297.28 216.94v10.00M293.74 218.41l7.07 7.07M293.74 225.48l7.07 -7.07M304.67 222.14h10.00M309.67 217.14v10.00M306.13 218.61l7.07 7.07M306.13 225.68l7.07 -7.07M317.06 222.30h10.00M322.06 217.30v10.00M318.53 218.76l7.07 7.07M318.53 225.83l7.07 -7.07M329.45 222.42h10.00M334.45 217.42v10.00M330.92 218.88l7.07 7.07M330.92 225.96l7.07 -7.07M341.85 222.52h10.00M346.85 217.52v10.00M343.31 218.98l7.07 7.07M343.31 226.05l7.07 -7.07M354.24 222.59h10.00M359.24 217.59v10.00M355.70 219.05l7.07 7.07M355.70 226.13l7.07 -7.07M366.63 222.65h10.00M371.63 217.65v10.00M368.10 219.11l7.07 7.07M368.10 226.18l7.07 -7.07M379.02 222.69h10.00M384.02 217.69v10.00M380.49 219.16l7.07 7.07M380.49 226.23l7.07 -7.07M391.42 222.73h10.00M396.42 217.73v10.00M392.88 219.19l7.07 7.07M392.88 226.26l7.07 -7.07M403.81 222.75h10.00M408.81 217.75v10.00M405.27 219.22l7.07 7.07M405.27 226.29l7.07 -7.07M416.20 222.78h10.00M421.20 217.78v10.00M417.67 219.24l7.07 7.07M417.67 226.31l7.07 -7.07M428.59 222.79h10.00M433.59 217.79v10.00M430.06 219.26l7.07 7.07M430.06 226.33l7.07 -7.07M440.99 222.80h10.00M445.99 217.80v10.00M442.45 219.27l7.07 7.07M442.45 226.34l7.07 -7.07M453.38 222.81h10.00M458.38 217.81v10.00M454.84 219.28l7.07 7.07M454.84 226.35l7.07 -7.07M465.77 222.82h10.00M470.77 217.82v10.00M467.24 219.29l7.07 7.07M467.24 226.36l7.07 -7.07M478.16 222.83h10.00M483.16 217.83v10.00M479.63 219.29l7.07 7.07M479.63 226.36l7.07 -7.07M490.56 222.83h10.00M495.56 217.83v10.00M492.02 219.30l7.07 7.07M492.02 226.37l7.07 -7.07M502.95 222.84h10.00M507.95 217.84v10.00M504.41 219.30l7.07 7.07M504.41 226.37l7.07 -7.07M515.34 222.84h10.00M520.34 217.84v10.00M516.81 219.30l7.07 7.07M516.81 226.38l7.07 -7.07M527.73 222.84h10.00M532.73 217.84v10.00M529.20 219.31l7.07 7.07M529.20 226.38l7.07 -7.07M529.75 222.84h10.00M534.75 217.84v10.00M531.22 219.31l7.07 7.07M531.22 226.38l7.07 -7.07M531.77 222.84h10.00M536.77 217.84v10.00M533.23 219.31l7.07 7.07M533.23 226.38l7.07 -7.07M533.78 222.84h10.00M538.78 217.84v10.00M535.25 219.31l7.07 7.07M535.25 226.38l7.07 -7.07M535.80 222.84h10.00M540.80 217.84v10.00M537.26 219.31l7.07 7.07M537.26 226.38l7.07 -7.07"/>
<path stroke="#D95319" d="M40.10 66.33h10.00M45.10 61.33v10.00M41.56 62.79l7.07 7.07M41.56 69.87l7.07 -7.07M52.49 81.96h10.00M57.49 76.96v10.00M53.96 78.42l7.07 7.07M53.96 85.49l7.07 -7.07M64.88 99.83h10.00M69.88 94.83v10.00M66.35 96.29l7.07 7.07M66.35 103.36l7.07 -7.07M77.28 118.59h10.00M82.28 113.59v10.00M78.74 115.06l7.07 7.07M78.74 122.13l7.07 -7.07M89.67 136.77h10.00M94.67 131.77v10.00M91.13 133.23l7.07 7.07M91.13 140.30l7.07 -7.07M102.06 153.09h10.00M107.06 148.09v10.00M103.53 149.55l7.07 7.07M103.53 156.62l7.07 -7.07M114.46 167.12h10.00M119.46 162.12v10.00M115.92 163.58l7.07 7.07M115.92 170.65l7.07 -7.07M126.85 178.75h10.00M131.85 173.75v10.00M128.31 175.21l7.07 7.07M128.31 182.28l7.07 -7.07M139.24 188.14h10.00M144.24 183.14v10.00M140.70 184.61l7.07 7.07M140.70 191.68l7.07 -7.07M151.63 195.67h10.00M156.63 190.67v10.00M153.10 192.13l7.07 7.07M153.10 199.20l7.07 -7.07M164.02 201.62h10.00M169.02 196.62v10.00M165.49 198.08l7.07 7.07M165.49 205.15l7.07 -7.07M176.42 206.26h10.00M181.42 201.26v10.00M177.88 202.73l7.07 7.07M177.88 209.80l7.07 -7.07M188.81 209.90h10.00M193.81 204.90v10.00M190.27 206.36l7.07 7.07M190.27 213.43l7.07 -7.07M201.20 212.76h10.00M206.20 207.76v10.00M202.67 209.23l7.07 7.07M202.67 216.30l7.07 -7.07M213.59 215.00h10.00M218.59 210.00v10.00M215.06 211.46l7.07 7.07M215.06 218.53l7.07 -7.07M225.99 216.73h10.00M230.99 211.73v10.00M227.45 213.19l7.07 7.07M227.45 220.26l7.07 -7.07M238.38 218.07h10.00M243.38 213.07v10.00M239.84 214.54l7.07 7.07M239.84 221.61l7.07 -7.07M250.77 219.13h10.00M255.77 214.13v10.00M252.24 215.60l7.07 7.07M252.24 222.67l7.07 -7.07M263.16 219.96h10.00M268.16 214.96v10.00M264.63 216.42l7.07 7.07M264.63 223.49l7.07 -7.07M275.56 220.59h10.00M280.56 215.59v10.00M277.02 217.06l7.07 7.07M277.02 224.13l7.07 -7.07M287.95 221.09h10.00M292.95 216.09v10.00M289.41 217.55l7.07 7.07M289.41 224.62l7.07 -7.07M300.34 221.48h10.00M305.34 216.48v10.00M301.81 217.94l7.07 7.07M301.81 225.02l7.07 -7.07M312.74 221.78h10.00M317.74 216.78v10.00M314.20 218.25l7.07 7.07M314.20 225.32l7.07 -7.07M325.13 222.02h10.00M330.13 217.02v10.00M326.59 218.48l7.07 7.07M326.59 225.55l7.07 -7.07M337.52 222.20h10.00M342.52 217.20v10.00M338.98 218.67l7.07 7.07M338.98 225.74l7.07 -7.07M349.91 222.35h10.00M354.91 217.35v10.00M351.38 218.81l7.07 7.07M351.38 225.88l7.07 -7.07M362.30 222.46h10.00M367.30 217.46v10.00M363.77 218.92l7.07 7.07M363.77 225.99l7.07 -7.07M374.70 222.54h10.00M379.70 217.54v10.00M376.16 219.01l7.07 7.07M376.16 226.08l7.07 -7.07M387.09 222.61h10.00M392.09 217.61v10.00M388.55 219.08l7.07 7.07M388.55 226.15l7.07 -7.07M399.48 222.66h10.00M404.48 217.66v10.00M400.95 219.13l7.07 7.07M400.95 226.20l7.07 -7.07M411.88 222.71h10.00M416.88 217.71v10.00M413.34 219.17l7.07 7.07M413.34 226.24l7.07 -7.07M424.27 222.74h10.00M429.27 217.74v10.00M425.73 219.20l7.07 7.07M425.73 226.27l7.07 -7.07M436.66 222.76h10.00M441.66 217.76v10.00M438.12 219.23l7.07 7.07M438.12 226.30l7.07 -7.07M449.05 222.78h10.00M454.05 217.78v10.00M450.52 219.25l7.07 7.07M450.52 226.32l7.07 -7.07M461.44 222.80h10.00M466.44 217.80v10.00M462.91 219.26l7.07 7.07M462.91 226.33l7.07 -7.07M473.84 222.81h10.00M478.84 217.81v10.00M475.30 219.27l7.07 7.07M475.30 226.34l7.07 -7.07M486.23 222.82h10.00M491.23 217.82v10.00M487.69 219.28l7.07 7.07M487.69 226.35l7.07 -7.07M498.62 222.82h10.00M503.62 217.82v10.00M500.09 219.29l7.07 7.07M500.09 226.36l7.07 -7.07M511.01 222.83h10.00M516.01 217.83v10.00M512.48 219.29l7.07 7.07M512.48 226.37l7.07 -7.07M523.41 222.83h10.00M528.41 217.83v10.00M524.87 219.30l7.07 7.07M524.87 226.37l7.07 -7.07M535.80 222.84h10.00M540.80 217.84v10.00M537.26 219.30l7.07 7.07M537.26 226.37l7.07 -7.07"/>
</g>
<g class="tl" text-anchor="middle"><text x="44.60" y="441">0</text><text x="94.17" y="441">0.1</text><text x="143.74" y="441">0.2</text><text x="193.31" y="441">0.3</text><text x="242.88" y="441">0.4</text><text x="292.45" y="441">0.5</text><text x="342.02" y="441">0.6</text><text x="391.59" y="441">0.7</text><text x="441.16" y="441">0.8</text><text x="490.73" y="441">0.9</text><text x="540.30" y="441">1</text></g>
<g class="tl" text-anchor="end"><text x="38" y="425.70">0</text><text x="38" y="386.57">0.1</text><text x="38" y="347.44">0.2</text><text x="38" y="308.31">0.3</text><text x="38" y="269.18">0.4</text><text x="38" y="230.05">0.5</text><text x="38" y="190.92">0.6</text><text x="38" y="151.79">0.7</text><text x="38" y="112.66">0.8</text><text x="38" y="73.53">0.9</text><text x="38" y="34.40">1</text></g>
<text class="tl" x="292.95" y="19.9" text-anchor="middle" style="font-size:16.3px">k=0.5</text>
<text class="lab" x="277.8" y="458.5" textLength="31.8" lengthAdjust="spacingAndGlyphs" style="font-size:15px">time</text>
<text class="lab" x="11.7" y="216.7" text-anchor="middle">x</text>
<rect x="443.6" y="39.0" width="91.89999999999998" height="172.1" fill="#fff" stroke="#262626" stroke-width="1"/>
<g fill="none" stroke-width="1.1"><path stroke="#0072BD" stroke-width="1.5" d="M465.90 50.00h10M470.90 45.00v10"/><path stroke="#0072BD" stroke-width="1.3" d="M468.00 47.10l5.80 5.80M468.00 52.90l5.80 -5.80"/><path stroke="#D95319" stroke-width="1.5" d="M465.90 68.75h10M470.90 63.75v10"/><path stroke="#D95319" stroke-width="1.3" d="M468.00 65.85l5.80 5.80M468.00 71.65l5.80 -5.80"/><path stroke="#EDB120" stroke-width="1.5" d="M465.90 87.50h10M470.90 82.50v10"/><path stroke="#EDB120" stroke-width="1.3" d="M468.00 84.60l5.80 5.80M468.00 90.40l5.80 -5.80"/><path stroke="#7E2F8E" stroke-width="1.5" d="M465.90 106.25h10M470.90 101.25v10"/><path stroke="#7E2F8E" stroke-width="1.3" d="M468.00 103.35l5.80 5.80M468.00 109.15l5.80 -5.80"/><path stroke="#77AC30" stroke-width="1.5" d="M465.90 125.00h10M470.90 120.00v10"/><path stroke="#77AC30" stroke-width="1.3" d="M468.00 122.10l5.80 5.80M468.00 127.90l5.80 -5.80"/><path stroke="#4DBEEE" stroke-width="1.5" d="M465.90 143.75h10M470.90 138.75v10"/><path stroke="#4DBEEE" stroke-width="1.3" d="M468.00 140.85l5.80 5.80M468.00 146.65l5.80 -5.80"/><path stroke="#A2142F" stroke-width="1.5" d="M465.90 162.50h10M470.90 157.50v10"/><path stroke="#A2142F" stroke-width="1.3" d="M468.00 159.60l5.80 5.80M468.00 165.40l5.80 -5.80"/><path stroke="#0072BD" stroke-width="1.5" d="M465.90 181.25h10M470.90 176.25v10"/><path stroke="#0072BD" stroke-width="1.3" d="M468.00 178.35l5.80 5.80M468.00 184.15l5.80 -5.80"/><path stroke="#D95319" stroke-width="1.5" d="M465.90 200.00h10M470.90 195.00v10"/><path stroke="#D95319" stroke-width="1.3" d="M468.00 197.10l5.80 5.80M468.00 202.90l5.80 -5.80"/></g>
<g class="lg"><text x="497" y="55.30">x=0.1</text><text x="497" y="74.05">x=0.2</text><text x="497" y="92.80">x=0.3</text><text x="497" y="111.55">x=0.4</text><text x="497" y="130.30">x=0.5</text><text x="497" y="149.05">x=0.6</text><text x="497" y="167.80">x=0.7</text><text x="497" y="186.55">x=0.8</text><text x="497" y="205.30">x=0.9</text></g>
</svg>
</body></html>
